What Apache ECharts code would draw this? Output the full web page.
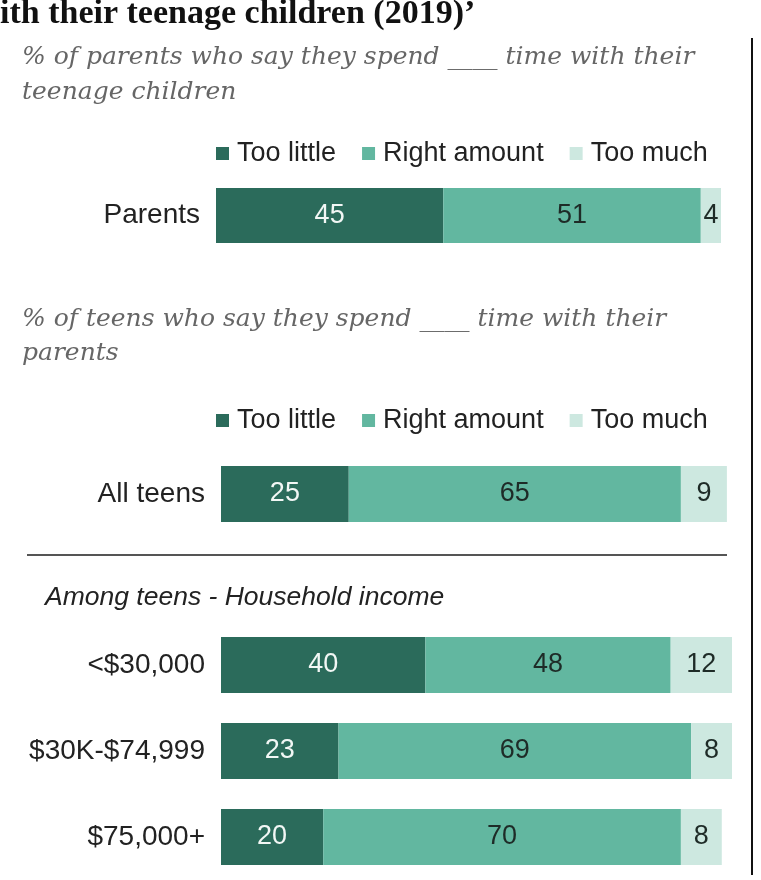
<!DOCTYPE html>
<html>
<head>
<meta charset="utf-8">
<script src="https://cdn.jsdelivr.net/npm/echarts@6/dist/echarts.min.js"></script>
<style>
  html, body { margin: 0; padding: 0; background: #fff; }
  #chart { width: 761px; height: 880px; }
</style>
</head>
<body>
<div id="chart"></div>
<script>
// answer categories (legend order)
var answerNames = ['Too little', 'Right amount', 'Too much'];

// parents block
var parentCats = ['Parents'];
var parentTooLittle = [45];
var parentRight = [51];
var parentTooMuch = [4];

// teens block
var teenCats = ['All teens'];
var teenTooLittle = [25];
var teenRight = [65];
var teenTooMuch = [9];

// teens by household income
var incomeCats = ['<$30,000', '$30K-$74,999', '$75,000+'];
var incomeTooLittle = [40, 23, 20];
var incomeRight = [48, 69, 70];
var incomeTooMuch = [12, 8, 8];

var colors = ['#2b6b5b', '#62b7a0', '#cde8e0'];
var labelColors = ['#f2f7f5', '#1e2b27', '#1e2b27'];
var sans = '"Liberation Sans", Arial, sans-serif';
var serif = '"DejaVu Serif", Georgia, serif';

function makeSeries(gridIdx, values) {
  return values.map(function(data, i) {
    return {
      name: answerNames[i],
      type: 'bar',
      stack: 'g' + gridIdx,
      xAxisIndex: gridIdx,
      yAxisIndex: gridIdx,
      barWidth: gridIdx === 0 ? 55 : 56,
      data: data,
      itemStyle: { color: colors[i] },
      label: {
        show: true,
        position: 'inside',
        color: labelColors[i],
        fontFamily: sans,
        fontSize: 27
      },
      emphasis: { disabled: true }
    };
  });
}

function catAxis(gridIdx, cats) {
  return {
    type: 'category',
    gridIndex: gridIdx,
    data: cats,
    inverse: true,
    axisLine: { show: false },
    axisTick: { show: false },
    axisLabel: { color: '#222', fontFamily: sans, fontSize: 28, margin: 16 }
  };
}

function valAxis(gridIdx) {
  return { type: 'value', gridIndex: gridIdx, min: 0, max: 100, show: false };
}

function legendAt(top) {
  return {
    data: answerNames,
    left: 216,
    top: top,
    padding: 0,
    icon: 'rect',
    itemWidth: 13,
    itemHeight: 13,
    itemGap: 26,
    selectedMode: false,
    textStyle: { color: '#222', fontFamily: sans, fontSize: 27, padding: [0, 0, 0, 3] }
  };
}

var subStyle = { font: 'italic 25px ' + serif, fill: '#666', textVerticalAlign: 'middle' };

function txt(text, x, y, style) {
  return { type: 'text', x: x, y: y, style: Object.assign({ text: text }, style) };
}

var chart = echarts.init(document.getElementById('chart'));
chart.setOption({
  animation: false,
  backgroundColor: '#fff',
  grid: [
    { left: 216, width: 505, top: 188, height: 55 },
    { left: 221, width: 511, top: 466, height: 56 },
    { left: 221, width: 511, top: 622, height: 258 }
  ],
  xAxis: [valAxis(0), valAxis(1), valAxis(2)],
  yAxis: [catAxis(0, parentCats), catAxis(1, teenCats), catAxis(2, incomeCats)],
  legend: [legendAt(140), legendAt(407)],
  series: [].concat(
    makeSeries(0, [parentTooLittle, parentRight, parentTooMuch]),
    makeSeries(1, [teenTooLittle, teenRight, teenTooMuch]),
    makeSeries(2, [incomeTooLittle, incomeRight, incomeTooMuch])
  ),
  graphic: [
    txt('ith their teenage children (2019)\u2019', 0, 14,
      { font: 'bold 34px "Liberation Serif", "Times New Roman", serif', fill: '#111', textVerticalAlign: 'middle' }),
    txt('% of parents who say they spend ____ time with their', 22, 57, subStyle),
    txt('teenage children', 22, 92, subStyle),
    txt('% of teens who say they spend ____ time with their', 22, 319, subStyle),
    txt('parents', 22, 353, subStyle),
    txt('Among teens - Household income', 45, 598,
      { font: 'italic 26.5px ' + sans, fill: '#222', textVerticalAlign: 'middle' }),
    { type: 'line', shape: { x1: 27, y1: 555, x2: 727, y2: 555 }, style: { stroke: '#555', lineWidth: 2 } },
    { type: 'line', shape: { x1: 752, y1: 38, x2: 752, y2: 875 }, style: { stroke: '#111', lineWidth: 2 } }
  ]
});
</script>
</body>
</html>
